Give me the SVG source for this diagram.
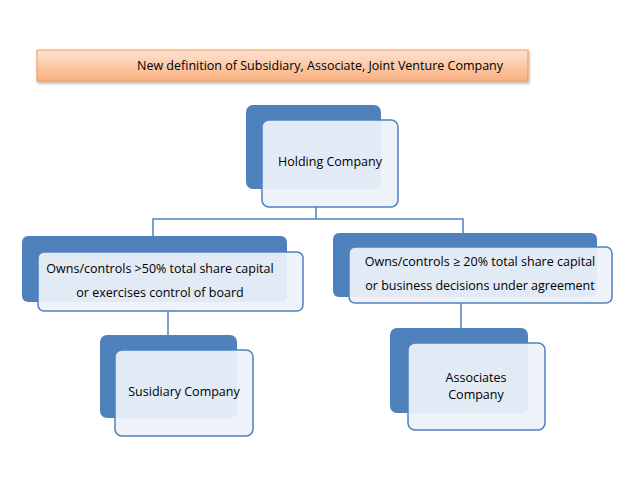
<svg xmlns="http://www.w3.org/2000/svg" width="638" height="479" viewBox="0 0 638 479">
<defs>
<linearGradient id="og" x1="0" y1="0" x2="0" y2="1"><stop offset="0" stop-color="#fde3d2"/><stop offset="1" stop-color="#f9b07e"/></linearGradient>
<filter id="sh" x="-5%" y="-20%" width="110%" height="160%"><feDropShadow dx="1" dy="2" stdDeviation="1.5" flood-color="#000" flood-opacity="0.3"/></filter>
</defs>
<style>
.back{fill:#4f81bd}
.front{fill:#eef2f9;fill-opacity:0.93;stroke:#4f81bd;stroke-width:1.5}
.t{font-family:"Open Sans","Liberation Sans",sans-serif;font-size:12.5px;fill:#000;text-anchor:middle}
.c{fill:none;stroke:#4f81bd;stroke-width:1.5}
</style>
<rect width="638" height="479" fill="#fff"/>
<g id="title"><rect x="37" y="50" width="491" height="31" fill="url(#og)" stroke="#f79646" filter="url(#sh)"/><text class="t" x="320" y="70" font-size="13">New definition of Subsidiary, Associate, Joint Venture Company</text></g>
<g id="connectors">
<path class="c" d="M316,207 V219 H153 V236 M316,219 H463 V233"/>
<path class="c" d="M168,311 V335"/>
<path class="c" d="M461,303 V328"/>
</g>
<g id="holding"><rect class="back" x="246" y="105" width="135" height="84" rx="7"/><rect class="front" x="262" y="120" width="136" height="87" rx="7"/><text class="t" x="330" y="166">Holding Company</text></g>
<g id="owns50"><rect class="back" x="22" y="236" width="265" height="66" rx="6"/><rect class="front" x="38" y="252" width="265" height="59" rx="6"/><text class="t" x="160" y="273">Owns/controls &gt;50% total share capital</text><text class="t" x="160" y="297">or exercises control of board</text></g>
<g id="owns20"><rect class="back" x="333" y="233" width="264" height="64" rx="6"/><rect class="front" x="349" y="247" width="263" height="56" rx="6"/><text class="t" x="480" y="266">Owns/controls ≥ 20% total share capital</text><text class="t" x="480" y="290">or business decisions under agreement</text></g>
<g id="subsidiary"><rect class="back" x="100" y="335" width="137" height="83" rx="7"/><rect class="front" x="115" y="350" width="138" height="86" rx="7"/><text class="t" x="184" y="396">Susidiary Company</text></g>
<g id="associates"><rect class="back" x="390" y="328" width="138" height="85" rx="7"/><rect class="front" x="408" y="343" width="137" height="87" rx="7"/><text class="t" x="476" y="382">Associates</text><text class="t" x="476" y="399">Company</text></g>
</svg>
